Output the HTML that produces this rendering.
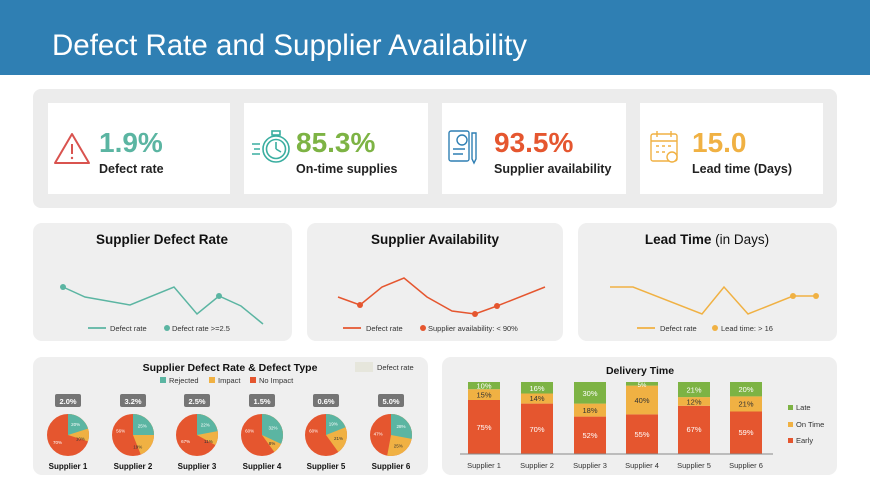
<!DOCTYPE html>
<html><head><meta charset="utf-8"><style>
html,body{margin:0;padding:0;background:#fff;}
svg{display:block;font-family:"Liberation Sans",sans-serif;}
</style></head><body>
<svg width="870" height="489" viewBox="0 0 870 489" xmlns="http://www.w3.org/2000/svg">
<rect width="870" height="489" fill="#fff"/>
<rect width="870" height="75" fill="#2f7fb3"/>
<text x="52" y="55" font-size="29.5" fill="#fff">Defect Rate and Supplier Availability</text>

<rect x="33" y="89" width="804" height="119" rx="8" fill="#ececec"/>
<rect x="48" y="103" width="182" height="91" fill="#fff"/>
<rect x="244" y="103" width="184" height="91" fill="#fff"/>
<rect x="442" y="103" width="184" height="91" fill="#fff"/>
<rect x="640" y="103" width="183" height="91" fill="#fff"/>
<path d="M72 134 L89 163 L55 163 Z" fill="none" stroke="#d9534f" stroke-width="2" stroke-linejoin="round"/>
<line x1="72" y1="144" x2="72" y2="154" stroke="#d9534f" stroke-width="2"/><circle cx="72" cy="158" r="1.2" fill="#d9534f"/>
<g stroke="#3aaea0" stroke-width="1.6" fill="none"><circle cx="276" cy="149" r="13"/><circle cx="276" cy="149" r="9.5"/><path d="M276 149 L276 142 M276 149 L281 152"/><rect x="272" y="131" width="8" height="4"/><path d="M252 144h8M254 149h6M252 154h8"/></g>
<g stroke="#2f7fb3" stroke-width="1.4" fill="none"><rect x="449" y="131" width="20" height="30" rx="2"/><path d="M453 149h12M453 154h10"/><circle cx="462" cy="140" r="5"/><path d="M476 133v26l-2 4-2-4v-26z"/></g>
<g stroke="#f0b143" stroke-width="1.4" fill="none"><rect x="651" y="134" width="26" height="27" rx="2"/><path d="M651 141h26M657 131v6M671 131v6M656 146h3M662 146h3M668 146h3M656 152h3M662 152h3"/><circle cx="672" cy="157" r="5" fill="#fff"/></g>
<text x="99" y="152" font-size="28" font-weight="bold" fill="#5bb5a2">1.9%</text>
<text x="99" y="173" font-size="12.5" font-weight="bold" fill="#222">Defect rate</text>
<text x="296" y="152" font-size="28" font-weight="bold" fill="#7db344">85.3%</text>
<text x="296" y="173" font-size="12.5" font-weight="bold" fill="#222">On-time supplies</text>
<text x="494" y="152" font-size="28" font-weight="bold" fill="#e5562f">93.5%</text>
<text x="494" y="173" font-size="12.5" font-weight="bold" fill="#222">Supplier availability</text>
<text x="692" y="152" font-size="28" font-weight="bold" fill="#f0b143">15.0</text>
<text x="692" y="173" font-size="12.5" font-weight="bold" fill="#222">Lead time (Days)</text>

<rect x="33" y="223" width="259" height="118" rx="9" fill="#efefef"/>
<rect x="307" y="223" width="256" height="118" rx="9" fill="#efefef"/>
<rect x="578" y="223" width="259" height="118" rx="9" fill="#efefef"/>
<text x="162" y="244" font-size="13.5" font-weight="bold" fill="#111" text-anchor="middle">Supplier Defect Rate</text>
<text x="435" y="244" font-size="13.5" font-weight="bold" fill="#111" text-anchor="middle">Supplier Availability</text>
<text x="707" y="244" font-size="13.5" fill="#111" text-anchor="middle"><tspan font-weight="bold">Lead Time</tspan> (in Days)</text>

<polyline points="63,287 85,297 130,305 174,287 197,314 219,296 241,306 263,324" fill="none" stroke="#5bb5a2" stroke-width="1.5"/>
<circle cx="63" cy="287" r="3" fill="#5bb5a2"/><circle cx="219" cy="296" r="3" fill="#5bb5a2"/>
<line x1="88" y1="328" x2="106" y2="328" stroke="#5bb5a2" stroke-width="1.8"/>
<text x="110" y="331" font-size="7.5" fill="#333">Defect rate</text>
<circle cx="167" cy="328" r="3" fill="#5bb5a2"/>
<text x="172" y="331" font-size="7.5" fill="#333">Defect rate &gt;=2.5</text>

<polyline points="338,297 360,305 382,287 404,278 427,297 452,311 475,314 497,306 545,287" fill="none" stroke="#e5562f" stroke-width="1.5"/>
<circle cx="360" cy="305" r="3" fill="#e5562f"/><circle cx="475" cy="314" r="3" fill="#e5562f"/><circle cx="497" cy="306" r="3" fill="#e5562f"/>
<line x1="343" y1="328" x2="361" y2="328" stroke="#e5562f" stroke-width="1.8"/>
<text x="366" y="331" font-size="7.5" fill="#333">Defect rate</text>
<circle cx="423" cy="328" r="3" fill="#e5562f"/>
<text x="428" y="331" font-size="7.5" fill="#333">Supplier availability: &lt; 90%</text>

<polyline points="610,287 633,287 702,314 724,287 748,314 793,296 816,296" fill="none" stroke="#f0b143" stroke-width="1.5"/>
<circle cx="793" cy="296" r="3" fill="#f0b143"/><circle cx="816" cy="296" r="3" fill="#f0b143"/>
<line x1="637" y1="328" x2="655" y2="328" stroke="#f0b143" stroke-width="1.8"/>
<text x="660" y="331" font-size="7.5" fill="#333">Defect rate</text>
<circle cx="715" cy="328" r="3" fill="#f0b143"/>
<text x="721" y="331" font-size="7.5" fill="#333">Lead time: &gt; 16</text>

<rect x="33" y="357" width="395" height="118" rx="9" fill="#efefef"/>
<text x="230" y="371" font-size="10.5" font-weight="bold" fill="#111" text-anchor="middle">Supplier Defect Rate &amp; Defect Type</text>
<rect x="355" y="362" width="18" height="10" fill="#e6e6dc"/>
<text x="377" y="370" font-size="7.5" fill="#333">Defect rate</text>
<rect x="160" y="377" width="6" height="6" fill="#5bb5a2"/><text x="169" y="383" font-size="7.5" fill="#333">Rejected</text>
<rect x="209" y="377" width="6" height="6" fill="#f0b143"/><text x="218" y="383" font-size="7.5" fill="#333">Impact</text>
<rect x="250" y="377" width="6" height="6" fill="#e5562f"/><text x="259" y="383" font-size="7.5" fill="#333">No Impact</text>

<g font-size="7.5" font-weight="bold" fill="#fff" text-anchor="middle">
<rect x="55" y="394" width="26" height="13" rx="2" fill="#757575"/><text x="68" y="404">2.0%</text>
<rect x="120" y="394" width="26" height="13" rx="2" fill="#757575"/><text x="133" y="404">3.2%</text>
<rect x="184" y="394" width="26" height="13" rx="2" fill="#757575"/><text x="197" y="404">2.5%</text>
<rect x="249" y="394" width="26" height="13" rx="2" fill="#757575"/><text x="262" y="404">1.5%</text>
<rect x="313" y="394" width="26" height="13" rx="2" fill="#757575"/><text x="326" y="404">0.6%</text>
<rect x="378" y="394" width="26" height="13" rx="2" fill="#757575"/><text x="391" y="404">5.0%</text>
</g>

<g fill="none" stroke-width="21">
<g transform="translate(68,435) rotate(-90)"><circle r="10.5" stroke="#e5562f"/><circle r="10.5" pathLength="100" stroke="#f0b143" stroke-dasharray="30 70"/><circle r="10.5" pathLength="100" stroke="#5bb5a2" stroke-dasharray="20 80"/></g>
<g transform="translate(133,435) rotate(-90)"><circle r="10.5" stroke="#e5562f"/><circle r="10.5" pathLength="100" stroke="#f0b143" stroke-dasharray="44 56"/><circle r="10.5" pathLength="100" stroke="#5bb5a2" stroke-dasharray="25 75"/></g>
<g transform="translate(197,435) rotate(-90)"><circle r="10.5" stroke="#e5562f"/><circle r="10.5" pathLength="100" stroke="#f0b143" stroke-dasharray="33 67"/><circle r="10.5" pathLength="100" stroke="#5bb5a2" stroke-dasharray="22 78"/></g>
<g transform="translate(262,435) rotate(-90)"><circle r="10.5" stroke="#e5562f"/><circle r="10.5" pathLength="100" stroke="#f0b143" stroke-dasharray="40 60"/><circle r="10.5" pathLength="100" stroke="#5bb5a2" stroke-dasharray="32 68"/></g>
<g transform="translate(326,435) rotate(-90)"><circle r="10.5" stroke="#e5562f"/><circle r="10.5" pathLength="100" stroke="#f0b143" stroke-dasharray="40 60"/><circle r="10.5" pathLength="100" stroke="#5bb5a2" stroke-dasharray="19 81"/></g>
<g transform="translate(391,435) rotate(-90)"><circle r="10.5" stroke="#e5562f"/><circle r="10.5" pathLength="100" stroke="#f0b143" stroke-dasharray="53 47"/><circle r="10.5" pathLength="100" stroke="#5bb5a2" stroke-dasharray="28 72"/></g>
</g>
<g font-size="4.5" text-anchor="middle">
<text x="75.6" y="426" fill="#fff">20%</text><text x="80.4" y="440.5" fill="#333">10%</text><text x="57.5" y="444" fill="#fff">70%</text>
<text x="142.2" y="427.5" fill="#fff">25%</text><text x="137.8" y="448.5" fill="#333">19%</text><text x="120.6" y="432.5" fill="#fff">56%</text>
<text x="205.3" y="426.5" fill="#fff">22%</text><text x="208.4" y="442.8" fill="#333">11%</text><text x="185.6" y="442.8" fill="#fff">67%</text>
<text x="273" y="429.5" fill="#fff">32%</text><text x="272" y="444.8" fill="#333">8%</text><text x="249.6" y="432.5" fill="#fff">60%</text>
<text x="333.3" y="425.7" fill="#fff">19%</text><text x="338.5" y="440.1" fill="#333">21%</text><text x="313.6" y="432.5" fill="#fff">60%</text>
<text x="401" y="428.2" fill="#fff">28%</text><text x="398.3" y="447.3" fill="#333">25%</text><text x="378.1" y="435.3" fill="#fff">47%</text>
</g>
<g font-size="8" font-weight="bold" fill="#111" text-anchor="middle">
<text x="68" y="469">Supplier 1</text><text x="133" y="469">Supplier 2</text><text x="197" y="469">Supplier 3</text>
<text x="262" y="469">Supplier 4</text><text x="326" y="469">Supplier 5</text><text x="391" y="469">Supplier 6</text>
</g>

<rect x="442" y="357" width="395" height="118" rx="9" fill="#efefef"/>
<text x="640" y="374" font-size="10.5" font-weight="bold" fill="#111" text-anchor="middle">Delivery Time</text>
<g font-size="7.5" text-anchor="middle">
<rect x="468" y="400" width="32" height="54" fill="#e5562f"/><rect x="468" y="389.2" width="32" height="10.8" fill="#f0b143"/><rect x="468" y="382" width="32" height="7.2" fill="#7db344"/>
<text x="484" y="430" fill="#fff">75%</text><text x="484" y="397.5" fill="#333">15%</text><text x="484" y="388.5" fill="#fff">10%</text>
<rect x="521" y="403.6" width="32" height="50.4" fill="#e5562f"/><rect x="521" y="393.5" width="32" height="10.1" fill="#f0b143"/><rect x="521" y="382" width="32" height="11.5" fill="#7db344"/>
<text x="537" y="432" fill="#fff">70%</text><text x="537" y="401" fill="#333">14%</text><text x="537" y="391" fill="#fff">16%</text>
<rect x="574" y="416.6" width="32" height="37.4" fill="#e5562f"/><rect x="574" y="403.6" width="32" height="13" fill="#f0b143"/><rect x="574" y="382" width="32" height="21.6" fill="#7db344"/>
<text x="590" y="438" fill="#fff">52%</text><text x="590" y="413" fill="#333">18%</text><text x="590" y="396" fill="#fff">30%</text>
<rect x="626" y="414.4" width="32" height="39.6" fill="#e5562f"/><rect x="626" y="385.6" width="32" height="28.8" fill="#f0b143"/><rect x="626" y="382" width="32" height="3.6" fill="#7db344"/>
<text x="642" y="437" fill="#fff">55%</text><text x="642" y="403" fill="#333">40%</text><text x="642" y="387" fill="#fff" font-size="6">5%</text>
<rect x="678" y="405.8" width="32" height="48.2" fill="#e5562f"/><rect x="678" y="397.1" width="32" height="8.7" fill="#f0b143"/><rect x="678" y="382" width="32" height="15.1" fill="#7db344"/>
<text x="694" y="432" fill="#fff">67%</text><text x="694" y="404.5" fill="#333">12%</text><text x="694" y="392.5" fill="#fff">21%</text>
<rect x="730" y="411.5" width="32" height="42.5" fill="#e5562f"/><rect x="730" y="396.4" width="32" height="15.1" fill="#f0b143"/><rect x="730" y="382" width="32" height="14.4" fill="#7db344"/>
<text x="746" y="435" fill="#fff">59%</text><text x="746" y="406.5" fill="#333">21%</text><text x="746" y="392" fill="#fff">20%</text>
</g>
<line x1="460" y1="454" x2="773" y2="454" stroke="#888" stroke-width="1"/>
<g font-size="7.5" fill="#333" text-anchor="middle">
<text x="484" y="468">Supplier 1</text><text x="537" y="468">Supplier 2</text><text x="590" y="468">Supplier 3</text>
<text x="642" y="468">Supplier 4</text><text x="694" y="468">Supplier 5</text><text x="746" y="468">Supplier 6</text>
</g>
<rect x="788" y="405" width="5" height="5" fill="#7db344"/><text x="796" y="410" font-size="7.5" fill="#333">Late</text>
<rect x="788" y="422" width="5" height="5" fill="#f0b143"/><text x="796" y="427" font-size="7.5" fill="#333">On Time</text>
<rect x="788" y="438" width="5" height="5" fill="#e5562f"/><text x="796" y="443" font-size="7.5" fill="#333">Early</text>
</svg>
</body></html>
